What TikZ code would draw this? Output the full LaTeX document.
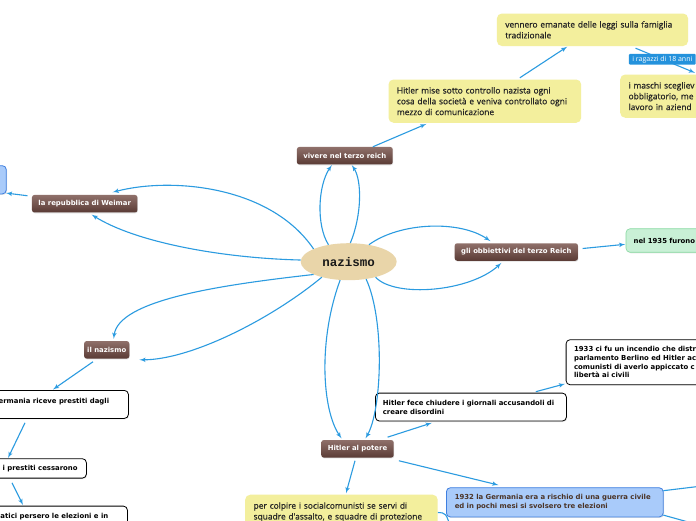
\documentclass[tikz,border=0pt]{standalone}
\usepackage{fontspec}
\setmainfont{DejaVu Sans}
\newfontfamily\notefont{Open Sans}[FakeBold=0.7]
\newfontfamily\tagfont{Open Sans}
\newfontfamily\rootfont{Liberation Mono}
\usepackage{xcolor}
\usepackage{tikz}
\usetikzlibrary{positioning,arrows,shadows,calc,shapes.geometric}

\definecolor{linkblue}{HTML}{2B9BE0}
\definecolor{topictop}{HTML}{8F706A}
\definecolor{topicbottom}{HTML}{5A3B35}
\definecolor{rootfill}{HTML}{E9D5A9}
\definecolor{notefill}{HTML}{F3EF9D}
\definecolor{bluefill}{HTML}{A9CBFA}
\definecolor{blueline}{HTML}{3F7FE0}
\definecolor{greenfill}{HTML}{C9F0D6}
\definecolor{greenline}{HTML}{86D9A0}
\definecolor{tagfill}{HTML}{2492DC}
\definecolor{browntext}{HTML}{4B3427}

\begin{document}
\begin{tikzpicture}[
  x=1pt, y=-1pt, >=latex',
  link/.style={->, color=linkblue, line width=1.1pt},
  root/.style={ellipse, fill=rootfill, minimum width=96pt, minimum height=37pt, inner sep=0pt,
    font=\rootfont\fontsize{12.5}{14}\selectfont\bfseries, text=black!90},
  topic/.style={rounded corners=2.5pt, top color=topictop, bottom color=topicbottom, text=white,
    font=\fontsize{6.9}{8}\selectfont\bfseries, inner xsep=6.5pt, inner ysep=0pt, minimum height=17.5pt,
    drop shadow={opacity=0.25, shadow xshift=0.5pt, shadow yshift=-0.8pt}},
  note/.style={anchor=north west, rounded corners=5pt, fill=notefill, align=left, text=black!85,
    font=\notefont\fontsize{8.4}{10.8}\selectfont, inner xsep=8.4pt, inner ysep=7.6pt},
  card/.style={rounded corners=4pt, draw=black, line width=0.8pt, fill=white,
    font=\fontsize{6.9}{9}\selectfont\bfseries, inner xsep=8pt, inner ysep=6.8pt,
    drop shadow={opacity=0.2, shadow xshift=0.8pt, shadow yshift=-1pt}},
  bluecard/.style={card, draw=blueline, fill=bluefill, text=browntext},
  greencard/.style={card, draw=greenline, fill=greenfill, line width=0.6pt},
  tag/.style={rounded corners=1pt, fill=tagfill, text=white, font=\tagfont\fontsize{7}{8}\selectfont,
    inner xsep=3.4pt, inner ysep=1.8pt}
]
  \useasboundingbox (0,0) rectangle (696,520);
  \clip (0,0) rectangle (696,520);
  \fill[white] (0,0) rectangle (696,520);

  \node (nazismo) [root] at (348.7,261.7) {nazismo};

  % vivere nel terzo reich
  \node (vivere) [topic] at (344.8,155.7) {vivere nel terzo reich};
  \node (controllo) [note, text width=175.9pt] at (388.3,79.3) {Hitler mise sotto controllo nazista ogni\\cosa della società e veniva controllato ogni\\mezzo di comunicazione};
  \node (famiglia) [note, text width=174.4pt] at (496.7,13.3) {vennero emanate delle leggi sulla famiglia\\tradizionale};
  \node (maschi) [note, text width=100pt] at (620,74.3) {i maschi scegliev\\obbligatorio, me\\lavoro in aziend};

  \draw[link] (nazismo.140) .. controls (316,225) and (318,185) .. ($(vivere.south)+(-13,0.5)$);
  \draw[link] (nazismo.85) .. controls (362,215) and (362,180) .. ($(vivere.south)+(7,0.5)$);
  \draw[link] ($(vivere.north east)+(-20,0)$) -- ($(controllo.south west)+(38,1)$);
  \draw[link] ($(controllo.north west)+(131.5,-1.5)$) -- ($(famiglia.south west)+(70.5,0.5)$);
  \draw[link] ($(famiglia.south east)+(-52.7,2)$) -- node[tag, pos=0.45] {i ragazzi di 18 anni} ($(maschi.north west)+(75,-1.5)$);

  % la repubblica di Weimar
  \node (weimar) [topic] at (84.7,203.7) {la repubblica di Weimar};
  \node (weimar-note) [bluecard, anchor=east, minimum width=50pt, minimum height=28.3pt] at (6.7,179.8) {};

  \draw[link] (nazismo.160) .. controls (270,185) and (170,177) .. ($(weimar.north)+(28,-2.5)$);
  \draw[link] (nazismo.178) .. controls (220,258) and (135,242) .. ($(weimar.south)+(7,2)$);
  \draw[link] ($(weimar.north west)+(-4.3,1)$) -- ($(weimar-note.south east)+(-0.7,-1.3)$);

  % gli obbiettivi del terzo Reich
  \node (obiettivi) [topic] at (516.3,252) {gli obbiettivi del terzo Reich};
  \node (anno1935) [greencard, anchor=west, minimum height=23.5pt, text width=100pt, inner xsep=7.6pt, inner ysep=0pt] at (625.7,240.5) {nel 1935 furono};

  \draw[link] (nazismo.40) .. controls (400,222) and (460,220) .. ($(obiettivi.north)+(-26,-2)$);
  \draw[link] (nazismo.-30) .. controls (395,298) and (470,292) .. ($(obiettivi.south)+(-15,2)$);
  \draw[link] ($(obiettivi.east)+(4.5,-3.5)$) -- ($(anno1935.west)+(-0.5,3.8)$);

  % il nazismo
  \node (nazismo-topic) [topic, inner xsep=3pt] at (106.7,349.8) {il nazismo};
  \node (prestiti) [card, anchor=north west, minimum width=149pt, inner ysep=3pt, text height=10pt, text depth=12pt] at (-21,390) {ermania riceve prestiti dagli};
  \node (cessarono) [card, anchor=north west, minimum width=92.6pt, minimum height=19.4pt, inner ysep=0pt] at (-6.6,458.3) {i prestiti cessarono};
  \node (elezioni) [card, anchor=north west, minimum width=146pt, inner ysep=3pt, text height=9.3pt, text depth=12pt] at (-19,505.7) {atici persero le elezioni e in};

  \draw[link] (nazismo.200) .. controls (220,285) and (118,300) .. ($(nazismo-topic.north)+(7,-2)$);
  \draw[link] (nazismo.210) .. controls (270,320) and (190,360) .. ($(nazismo-topic.east)+(10,10)$);
  \draw[link] ($(nazismo-topic.south)+(-13.7,3)$) -- ($(prestiti.north west)+(74,-0.5)$);
  \draw[link] ($(prestiti.south west)+(46,4)$) -- ($(cessarono.north west)+(14.6,-0.3)$);
  \draw[link] ($(cessarono.south west)+(18.6,4.3)$) -- ($(elezioni.north west)+(42,-0.7)$);

  % Hitler al potere
  \node (potere) [topic] at (357.5,448.8) {Hitler al potere};
  \node (giornali) [card, anchor=north west, text width=176pt, align=left, inner xsep=7.5pt] at (375,392.7) {Hitler fece chiudere i giornali accusandoli di\\creare disordini};
  \node (incendio) [card, anchor=north west, text width=150pt, align=left, font=\fontsize{6.9}{8.7}\selectfont\bfseries] at (565.7,339.3) {1933 ci fu un incendio che distr\\parlamento Berlino ed Hitler ac\\comunisti di averlo appiccato c\\libertà ai civili};
  \node (guerra) [bluecard, anchor=north west, text width=200pt, align=left, inner xsep=8.4pt] at (446,487.3) {1932 la Germania era a rischio di una guerra civile\\ed in pochi mesi si svolsero tre elezioni};
  \node (squadre) [note, text width=175.7pt] at (245,494.5) {per colpire i socialcomunisti se servi di\\squadre d'assalto, e squadre di protezione};
  \coordinate (guerra-out1) at (760,479);
  \coordinate (guerra-out2) at (760,542);
  \coordinate (squadre-out) at (452,532);

  \draw[link] (nazismo.245) .. controls (318,340) and (322,410) .. ($(potere.north)+(-16,-1.5)$);
  \draw[link] (nazismo.315) .. controls (385,320) and (382,410) .. ($(potere.north)+(8,-1.5)$);
  \draw[link] ($(potere.north east)+(-6.3,-2.7)$) -- ($(giornali.south west)+(56.7,1.5)$);
  \draw[link] ($(giornali.north east)+(-31,-1)$) -- ($(incendio.south west)+(-0.7,-1.3)$);
  \draw[link] ($(potere.south east)+(5,3)$) -- ($(guerra.north west)+(52.3,-2.3)$);
  \draw[link] ($(potere.south)+(-2.5,3)$) -- ($(squadre.north west)+(101,-1.2)$);
  \draw[link] ($(guerra.north east)+(-0.3,3.4)$) -- (guerra-out1);
  \draw[link] ($(guerra.south east)+(-0.3,-2.3)$) -- (guerra-out2);
  \draw[link] ($(squadre.north east)+(0,18)$) .. controls (446,513) .. (squadre-out);
\end{tikzpicture}
\end{document}
